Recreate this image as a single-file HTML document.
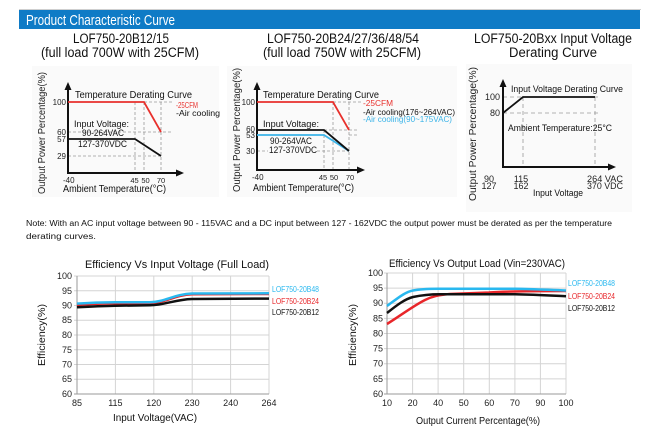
<!DOCTYPE html>
<html><head><meta charset="utf-8"><style>
html,body{margin:0;padding:0;background:#fff;}
svg{display:block;}
text{font-family:"Liberation Sans",sans-serif;}
</style></head><body>
<svg width="650" height="448" viewBox="0 0 650 448" xmlns="http://www.w3.org/2000/svg">
<rect x="0" y="0" width="650" height="448" fill="#fff"/>
<!-- header -->
<line x1="19" y1="9.5" x2="641" y2="9.5" stroke="#cfcfcf" stroke-width="1"/>
<rect x="19" y="10" width="621" height="19" fill="#0f7bc6"/>
<text x="26" y="25" font-size="15" fill="#fff" textLength="149" lengthAdjust="spacingAndGlyphs">Product Characteristic Curve</text>

<!-- titles -->
<g font-size="13.5" fill="#111">
<text x="73" y="43" textLength="96" lengthAdjust="spacingAndGlyphs">LOF750-20B12/15</text>
<text x="41" y="57" textLength="158" lengthAdjust="spacingAndGlyphs">(full load 700W with 25CFM)</text>
<text x="267" y="43" textLength="152" lengthAdjust="spacingAndGlyphs">LOF750-20B24/27/36/48/54</text>
<text x="263" y="57" textLength="158" lengthAdjust="spacingAndGlyphs">(full load 750W with 25CFM)</text>
<text x="474" y="43" textLength="158" lengthAdjust="spacingAndGlyphs">LOF750-20Bxx Input Voltage</text>
<text x="509" y="57" textLength="88" lengthAdjust="spacingAndGlyphs">Derating Curve</text>
</g>

<!-- faint chart backgrounds -->
<rect x="32" y="66" width="187" height="131" fill="#fafafa"/>
<rect x="227" y="66" width="230" height="131" fill="#fafafa"/>
<rect x="466" y="64" width="166" height="148" fill="#fafafa"/>

<!-- ===== Chart 1 ===== -->
<g>
<text transform="translate(45,133) rotate(-90)" font-size="10" text-anchor="middle" fill="#222" textLength="122" lengthAdjust="spacingAndGlyphs">Output Power Percentage(%)</text>
<g stroke="#999" stroke-width="0.8" stroke-dasharray="3,2" fill="none">
<line x1="144" y1="102" x2="172" y2="102"/>
<line x1="68" y1="132" x2="172" y2="132"/>
<line x1="68" y1="156" x2="161" y2="156"/>
<line x1="135" y1="102" x2="135" y2="173"/>
<line x1="144" y1="102" x2="144" y2="173"/>
<line x1="161" y1="102" x2="161" y2="173"/>
</g>
<line x1="68" y1="88" x2="68" y2="174" stroke="#111" stroke-width="2"/>
<polygon points="68,82 64.5,90 71.5,90" fill="#111"/>
<line x1="67" y1="173" x2="177" y2="173" stroke="#111" stroke-width="2"/>
<polygon points="184,173 176,169.5 176,176.5" fill="#111"/>
<polyline points="68,102 144,102 161,132" fill="none" stroke="#e8302c" stroke-width="1.8"/>
<polyline points="68,139 135,139 161,156" fill="none" stroke="#111" stroke-width="1.8"/>
<g font-size="8" fill="#222">
<text x="66" y="105" text-anchor="end">100</text>
<text x="66" y="135" text-anchor="end">60</text>
<text x="66" y="142" text-anchor="end">57</text>
<text x="66" y="159" text-anchor="end">29</text>
<text x="63" y="183">-40</text>
</g>
<g font-size="7.5" fill="#222">
<text x="134.5" y="183" text-anchor="middle">45</text>
<text x="145.5" y="183" text-anchor="middle">50</text>
<text x="161" y="183" text-anchor="middle">70</text>
</g>
<text x="75" y="98" font-size="10" fill="#111" textLength="117" lengthAdjust="spacingAndGlyphs">Temperature Derating Curve</text>
<text x="176" y="108" font-size="8.5" fill="#e8302c" textLength="22" lengthAdjust="spacingAndGlyphs">-25CFM</text>
<text x="176" y="116" font-size="8" fill="#111" textLength="44" lengthAdjust="spacingAndGlyphs">-Air cooling</text>
<text x="74" y="127" font-size="9.5" fill="#111" textLength="55" lengthAdjust="spacingAndGlyphs">Input Voltage:</text>
<text x="82" y="136" font-size="9.5" fill="#111" textLength="42" lengthAdjust="spacingAndGlyphs">90-264VAC</text>
<text x="78" y="147" font-size="9.5" fill="#111" textLength="49" lengthAdjust="spacingAndGlyphs">127-370VDC</text>
<text x="63" y="192" font-size="10" fill="#111" textLength="103" lengthAdjust="spacingAndGlyphs">Ambient Temperature(°C)</text>
</g>

<!-- ===== Chart 2 ===== -->
<g>
<text transform="translate(240,130) rotate(-90)" font-size="10" text-anchor="middle" fill="#222" textLength="124" lengthAdjust="spacingAndGlyphs">Output Power Percentage(%)</text>
<g stroke="#999" stroke-width="0.8" stroke-dasharray="3,2" fill="none">
<line x1="333" y1="102" x2="362" y2="102"/>
<line x1="324" y1="130" x2="358" y2="130"/>
<line x1="349" y1="135" x2="358" y2="135"/>
<line x1="257" y1="151" x2="349" y2="151"/>
<line x1="324" y1="130" x2="324" y2="170"/>
<line x1="333" y1="102" x2="333" y2="170"/>
<line x1="349" y1="102" x2="349" y2="170"/>
</g>
<rect x="268" y="145" width="49" height="9" fill="#fafafa"/>
<line x1="257" y1="88" x2="257" y2="171" stroke="#111" stroke-width="2"/>
<polygon points="257,82 253.5,90 260.5,90" fill="#111"/>
<line x1="256" y1="170" x2="358" y2="170" stroke="#111" stroke-width="2"/>
<polygon points="365,170 357,166.5 357,173.5" fill="#111"/>
<polyline points="257,102 333,102 349,130" fill="none" stroke="#e8302c" stroke-width="1.8"/>
<polyline points="257,135 324,135 349,151" fill="none" stroke="#3bb4e8" stroke-width="1.8"/>
<polyline points="257,130 324,130 349,151" fill="none" stroke="#111" stroke-width="1.8"/>
<g font-size="8" fill="#222">
<text x="255" y="105" text-anchor="end">100</text>
<text x="255" y="132" text-anchor="end">60</text>
<text x="255" y="138" text-anchor="end">53</text>
<text x="255" y="154" text-anchor="end">30</text>
<text x="252" y="180">-40</text>
</g>
<g font-size="7.5" fill="#222">
<text x="323" y="180" text-anchor="middle">45</text>
<text x="334" y="180" text-anchor="middle">50</text>
<text x="350" y="180" text-anchor="middle">70</text>
</g>
<text x="263" y="98" font-size="10" fill="#111" textLength="116" lengthAdjust="spacingAndGlyphs">Temperature Derating Curve</text>
<text x="363" y="106" font-size="8" fill="#e8302c" textLength="30" lengthAdjust="spacingAndGlyphs">-25CFM</text>
<text x="363" y="115" font-size="8" fill="#111" textLength="92" lengthAdjust="spacingAndGlyphs">-Air cooling(176~264VAC)</text>
<text x="363" y="122" font-size="8" fill="#3bb4e8" textLength="89" lengthAdjust="spacingAndGlyphs">-Air cooling(90~175VAC)</text>
<text x="263" y="127" font-size="9.5" fill="#111" textLength="56" lengthAdjust="spacingAndGlyphs">Input Voltage:</text>
<text x="270" y="144" font-size="9.5" fill="#111" textLength="42" lengthAdjust="spacingAndGlyphs">90-264VAC</text>
<text x="269" y="153" font-size="9.5" fill="#111" textLength="48" lengthAdjust="spacingAndGlyphs">127-370VDC</text>
<text x="253" y="191" font-size="10" fill="#111" textLength="101" lengthAdjust="spacingAndGlyphs">Ambient Temperature(°C)</text>
</g>

<!-- ===== Chart 3 ===== -->
<g>
<text transform="translate(476,134) rotate(-90)" font-size="10.5" text-anchor="middle" fill="#222" textLength="134" lengthAdjust="spacingAndGlyphs">Output Power Percentage(%)</text>
<g stroke="#999" stroke-width="0.8" stroke-dasharray="4,3" fill="none">
<line x1="503" y1="97" x2="600" y2="97"/>
<line x1="503" y1="113" x2="600" y2="113"/>
<line x1="523" y1="97" x2="523" y2="167"/>
<line x1="595" y1="97" x2="595" y2="167"/>
</g>
<line x1="503" y1="86" x2="503" y2="168" stroke="#111" stroke-width="2"/>
<polygon points="503,79 499.5,87 506.5,87" fill="#111"/>
<line x1="502" y1="167" x2="608" y2="167" stroke="#111" stroke-width="2"/>
<polygon points="616,167 608,163.5 608,170.5" fill="#111"/>
<polyline points="503,113 523,97 595,97" fill="none" stroke="#111" stroke-width="1.8"/>
<g font-size="9" fill="#222">
<text x="500" y="100" text-anchor="end">100</text>
<text x="500" y="116" text-anchor="end">80</text>
<text x="489" y="182" text-anchor="middle">90</text>
<text x="489" y="189" text-anchor="middle">127</text>
<text x="521" y="182" text-anchor="middle">115</text>
<text x="521" y="189" text-anchor="middle">162</text>
<text x="587" y="182" textLength="36" lengthAdjust="spacingAndGlyphs">264 VAC</text>
<text x="587" y="189" textLength="36" lengthAdjust="spacingAndGlyphs">370 VDC</text>
</g>
<text x="511" y="92" font-size="9.5" fill="#111" textLength="112" lengthAdjust="spacingAndGlyphs">Input Voltage Derating Curve</text>
<text x="508" y="131" font-size="9.5" fill="#111" textLength="104" lengthAdjust="spacingAndGlyphs">Ambient Temperature:25°C</text>
<text x="533" y="196" font-size="9" fill="#111" textLength="50" lengthAdjust="spacingAndGlyphs">Input Voltage</text>
</g>

<!-- note -->
<text x="26" y="226" font-size="8" fill="#111" textLength="586" lengthAdjust="spacingAndGlyphs">Note: With an AC input voltage between 90 - 115VAC and a DC input between 127 - 162VDC the output power must be derated as per the temperature</text>
<text x="26" y="239" font-size="8" fill="#111" textLength="70" lengthAdjust="spacingAndGlyphs">derating curves.</text>

<!-- ===== Efficiency chart 1 ===== -->
<g>
<text x="85" y="268" font-size="11" fill="#111" textLength="184" lengthAdjust="spacingAndGlyphs">Efficiency Vs Input Voltage (Full Load)</text>
<g stroke="#d4d4d4" stroke-width="1" fill="none">
<line x1="74" y1="276" x2="269" y2="276"/>
<line x1="74" y1="290.75" x2="269" y2="290.75"/>
<line x1="74" y1="305.5" x2="269" y2="305.5"/>
<line x1="74" y1="320.25" x2="269" y2="320.25"/>
<line x1="74" y1="335" x2="269" y2="335"/>
<line x1="74" y1="349.75" x2="269" y2="349.75"/>
<line x1="74" y1="364.5" x2="269" y2="364.5"/>
<line x1="74" y1="379.25" x2="269" y2="379.25"/>
<line x1="115.4" y1="276" x2="115.4" y2="394"/>
<line x1="153.8" y1="276" x2="153.8" y2="394"/>
<line x1="192.2" y1="276" x2="192.2" y2="394"/>
<line x1="230.6" y1="276" x2="230.6" y2="394"/>
<line x1="269" y1="276" x2="269" y2="394"/>
</g>
<line x1="77" y1="276" x2="77" y2="394" stroke="#9a9a9a" stroke-width="1"/>
<line x1="74" y1="394" x2="269" y2="394" stroke="#9a9a9a" stroke-width="1"/>
<g font-size="9" fill="#222" text-anchor="end">
<text x="72" y="279">100</text>
<text x="72" y="294">95</text>
<text x="72" y="308.5">90</text>
<text x="72" y="323">85</text>
<text x="72" y="338">80</text>
<text x="72" y="353">75</text>
<text x="72" y="367.5">70</text>
<text x="72" y="382">65</text>
<text x="72" y="397">60</text>
</g>
<g font-size="9" fill="#222" text-anchor="middle">
<text x="77" y="406">85</text>
<text x="115.4" y="406">115</text>
<text x="153.8" y="406">120</text>
<text x="192.2" y="406">230</text>
<text x="230.6" y="406">240</text>
<text x="269" y="406">264</text>
</g>
<text x="113" y="421" font-size="10.5" fill="#111" textLength="84" lengthAdjust="spacingAndGlyphs">Input Voltage(VAC)</text>
<text transform="translate(45,335) rotate(-90)" font-size="10.5" text-anchor="middle" fill="#111" textLength="62" lengthAdjust="spacingAndGlyphs">Efficiency(%)</text>
<path d="M77,305 Q96,303.2 115,303.2 L150,303.2 C165,303 175,295 192,294.2 L269,294" fill="none" stroke="#e8262a" stroke-width="2.5"/>
<path d="M77,307.2 Q100,306 115,305.7 L150,305.3 C165,305 175,299.5 192,299 L269,298.6" fill="none" stroke="#111" stroke-width="2.5"/>
<path d="M77,303.6 Q96,302.2 115,302.2 L150,302.2 C165,302 175,294 192,293.5 L269,293.3" fill="none" stroke="#29b8ef" stroke-width="2.5"/>
<text x="272" y="292" font-size="8.5" fill="#29b8ef" textLength="47" lengthAdjust="spacingAndGlyphs">LOF750-20B48</text>
<text x="272" y="304" font-size="8.5" fill="#e8262a" textLength="47" lengthAdjust="spacingAndGlyphs">LOF750-20B24</text>
<text x="272" y="315" font-size="8.5" fill="#111" textLength="47" lengthAdjust="spacingAndGlyphs">LOF750-20B12</text>
</g>

<!-- ===== Efficiency chart 2 ===== -->
<g>
<text x="389" y="267" font-size="11" fill="#111" textLength="176" lengthAdjust="spacingAndGlyphs">Efficiency Vs Output Load (Vin=230VAC)</text>
<g stroke="#d4d4d4" stroke-width="1" fill="none">
<line x1="384" y1="273" x2="566" y2="273"/>
<line x1="384" y1="288.1" x2="566" y2="288.1"/>
<line x1="384" y1="303.25" x2="566" y2="303.25"/>
<line x1="384" y1="318.4" x2="566" y2="318.4"/>
<line x1="384" y1="333.5" x2="566" y2="333.5"/>
<line x1="384" y1="348.6" x2="566" y2="348.6"/>
<line x1="384" y1="363.75" x2="566" y2="363.75"/>
<line x1="384" y1="378.9" x2="566" y2="378.9"/>
<line x1="412.6" y1="273" x2="412.6" y2="394"/>
<line x1="438.1" y1="273" x2="438.1" y2="394"/>
<line x1="463.7" y1="273" x2="463.7" y2="394"/>
<line x1="489.3" y1="273" x2="489.3" y2="394"/>
<line x1="514.9" y1="273" x2="514.9" y2="394"/>
<line x1="540.4" y1="273" x2="540.4" y2="394"/>
<line x1="566" y1="273" x2="566" y2="394"/>
</g>
<line x1="387" y1="273" x2="387" y2="394" stroke="#9a9a9a" stroke-width="1"/>
<line x1="384" y1="394" x2="566" y2="394" stroke="#9a9a9a" stroke-width="1"/>
<g font-size="9" fill="#222" text-anchor="end">
<text x="383" y="276">100</text>
<text x="383" y="291">95</text>
<text x="383" y="306">90</text>
<text x="383" y="321.5">85</text>
<text x="383" y="336.5">80</text>
<text x="383" y="351.5">75</text>
<text x="383" y="366.5">70</text>
<text x="383" y="382">65</text>
<text x="383" y="397">60</text>
</g>
<g font-size="9" fill="#222" text-anchor="middle">
<text x="387" y="406">10</text>
<text x="412.6" y="406">20</text>
<text x="438.1" y="406">40</text>
<text x="463.7" y="406">50</text>
<text x="489.3" y="406">60</text>
<text x="514.9" y="406">70</text>
<text x="540.4" y="406">90</text>
<text x="566" y="406">100</text>
</g>
<text x="416" y="424" font-size="10.5" fill="#111" textLength="124" lengthAdjust="spacingAndGlyphs">Output Current Percentage(%)</text>
<text transform="translate(356,335) rotate(-90)" font-size="10.5" text-anchor="middle" fill="#111" textLength="62" lengthAdjust="spacingAndGlyphs">Efficiency(%)</text>
<path d="M387,324 C400,316 413,306 425,300 C432,296.5 438,295 450,294 L489,292.5 C505,291.5 530,291 566,291" fill="none" stroke="#e8262a" stroke-width="2.5"/>
<path d="M387,313 C397,305 405,299 413,297 C422,295 430,294.2 440,294.2 L515,294.2 C535,294.5 550,295.5 566,296.3" fill="none" stroke="#111" stroke-width="2.5"/>
<path d="M387,306 C398,298 405,292 413,290.5 C420,289 430,288.7 438,288.7 L515,288.7 C535,289 550,290 566,290.5" fill="none" stroke="#29b8ef" stroke-width="2.5"/>
<text x="568" y="286" font-size="8.5" fill="#29b8ef" textLength="47" lengthAdjust="spacingAndGlyphs">LOF750-20B48</text>
<text x="568" y="299" font-size="8.5" fill="#e8262a" textLength="47" lengthAdjust="spacingAndGlyphs">LOF750-20B24</text>
<text x="568" y="311" font-size="8.5" fill="#111" textLength="47" lengthAdjust="spacingAndGlyphs">LOF750-20B12</text>
</g>
</svg>
</body></html>
